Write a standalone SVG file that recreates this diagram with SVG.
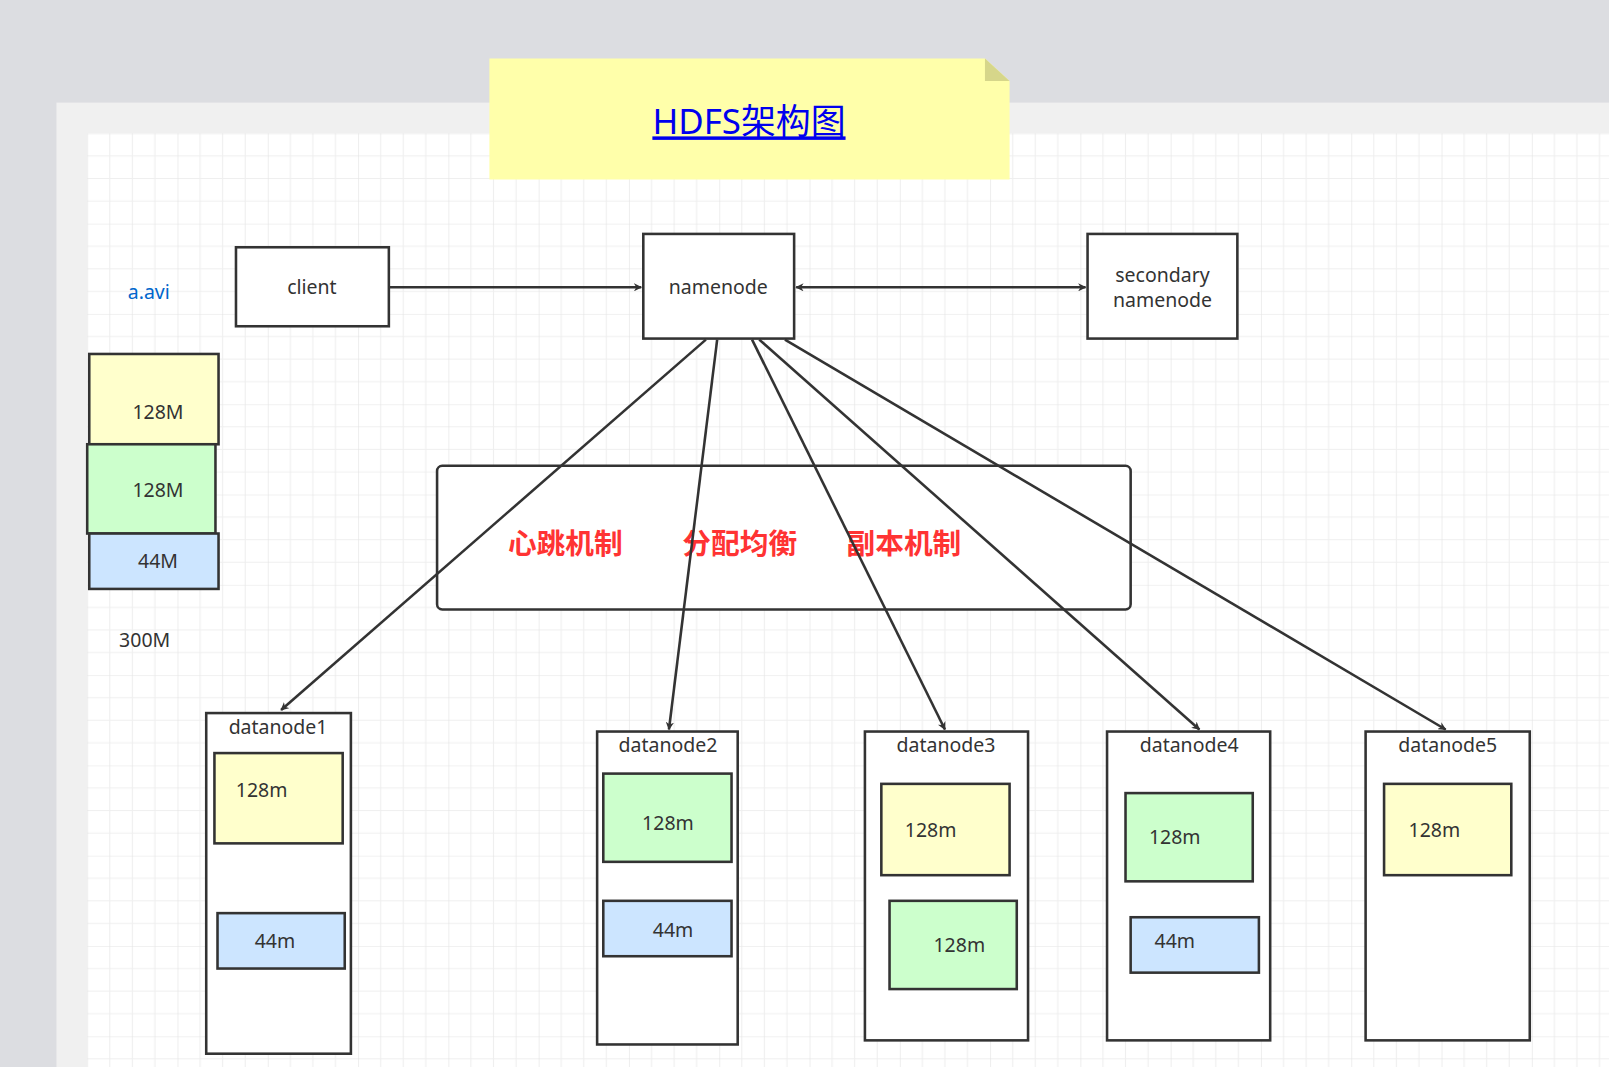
<svg xmlns="http://www.w3.org/2000/svg" width="1609" height="1067" viewBox="0 0 1609 1067">
<style>
text{font-family:"Noto Sans","Open Sans","Noto Sans CJK SC",sans-serif;font-size:19px;fill:#333;text-anchor:middle}
.b{fill:#fff;stroke:#333;stroke-width:2.5}
.y{fill:#ffffcc;stroke:#333;stroke-width:2.5}
.g{fill:#ccffcc;stroke:#333;stroke-width:2.5}
.u{fill:#cce5ff;stroke:#333;stroke-width:2.5}
.c{stroke:#333;stroke-width:2.5;fill:none}
.r{fill:#ff3333;font-weight:bold;font-size:28px;font-family:"Noto Sans CJK SC",sans-serif}
</style>
<defs>
<marker id="a" viewBox="0 0 10 10" refX="9" refY="5" markerWidth="8" markerHeight="8" orient="auto-start-reverse" markerUnits="userSpaceOnUse"><path d="M0,0L10,5L0,10L3,5z" fill="#333"/></marker>
<pattern id="gr" width="88" height="88" patternUnits="userSpaceOnUse" x="85" y="130">
<rect width="88" height="88" fill="#fff"/>
<path d="M22,0V88M44,0V88M66,0V88M0,22H88M0,44H88M0,66H88" stroke="#efefef" stroke-width="1"/>
<path d="M0,0V88M0,0H88" stroke="#e4e4e4" stroke-width="1.2"/>
</pattern>
</defs>
<g transform="scale(1.026)">
<rect width="1570" height="1041" fill="#dcdde1"/>
<rect x="55" y="100" width="1515" height="941" fill="#f0f0f0"/>
<rect x="85" y="130" width="1485" height="911" fill="url(#gr)"/>
<g id="title">
<path d="M477,57H960L984,79V175H477z" fill="#ffffaa"/>
<path d="M960,57L984,79H960z" fill="#d6d68a"/>
<text x="730" y="131" style="font-size:34px;fill:#0000ee;text-decoration:underline">HDFS架构图</text>
</g>
<g id="file">
<text x="145" y="291" style="fill:#0066cc">a.avi</text>
<rect class="y" x="87" y="345" width="126" height="88"/>
<text x="154" y="408">128M</text>
<rect class="g" x="85" y="433" width="125" height="87"/>
<text x="154" y="484">128M</text>
<rect class="u" x="87" y="520" width="126" height="54"/>
<text x="154" y="554">44M</text>
<text x="141" y="631">300M</text>
</g>
<g id="client"><rect class="b" x="230" y="241" width="149" height="77"/><text x="304" y="287">client</text></g>
<g id="namenode"><rect class="b" x="627" y="228" width="147" height="102"/><text x="700" y="287">namenode</text></g>
<g id="secondary"><rect class="b" x="1060" y="228" width="146" height="102"/><text x="1133" y="275">secondary</text><text x="1133" y="299">namenode</text></g>
<g id="mechanisms">
<rect x="426" y="454" width="676" height="140" rx="5" fill="#fff" stroke="#333" stroke-width="2.5"/>
<text class="r" x="551" y="540">心跳机制</text>
<text class="r" x="721" y="540">分配均衡</text>
<text class="r" x="881" y="540">副本机制</text>
</g>
<g id="datanode1"><rect class="b" x="201" y="695" width="141" height="332"/><text x="271" y="715">datanode1</text>
<rect class="y" x="209" y="734" width="125" height="88"/><text x="255" y="777">128m</text>
<rect class="u" x="212" y="890" width="124" height="54"/><text x="268" y="924">44m</text></g>
<g id="datanode2"><rect class="b" x="582" y="713" width="137" height="305"/><text x="651" y="733">datanode2</text>
<rect class="g" x="588" y="754" width="125" height="86"/><text x="651" y="809">128m</text>
<rect class="u" x="588" y="878" width="125" height="54"/><text x="656" y="913">44m</text></g>
<g id="datanode3"><rect class="b" x="843" y="713" width="159" height="301"/><text x="922" y="733">datanode3</text>
<rect class="y" x="859" y="764" width="125" height="89"/><text x="907" y="816">128m</text>
<rect class="g" x="867" y="878" width="124" height="86"/><text x="935" y="928">128m</text></g>
<g id="datanode4"><rect class="b" x="1079" y="713" width="159" height="301"/><text x="1159" y="733">datanode4</text>
<rect class="g" x="1097" y="773" width="124" height="86"/><text x="1145" y="823">128m</text>
<rect class="u" x="1102" y="894" width="125" height="54"/><text x="1145" y="924">44m</text></g>
<g id="datanode5"><rect class="b" x="1331" y="713" width="160" height="301"/><text x="1411" y="733">datanode5</text>
<rect class="y" x="1349" y="764" width="124" height="89"/><text x="1398" y="816">128m</text></g>
<g id="connectors">
<line class="c" x1="379" y1="280" x2="625" y2="280" marker-end="url(#a)"/>
<line class="c" x1="776" y1="280" x2="1058" y2="280" marker-start="url(#a)" marker-end="url(#a)"/>
<line class="c" x1="688" y1="331" x2="274" y2="692" marker-end="url(#a)"/>
<line class="c" x1="699" y1="331" x2="652" y2="711" marker-end="url(#a)"/>
<line class="c" x1="733" y1="331" x2="921" y2="711" marker-end="url(#a)"/>
<line class="c" x1="740" y1="331" x2="1169" y2="711" marker-end="url(#a)"/>
<line class="c" x1="765" y1="331" x2="1409" y2="711" marker-end="url(#a)"/>
</g>
</g>
</svg>
